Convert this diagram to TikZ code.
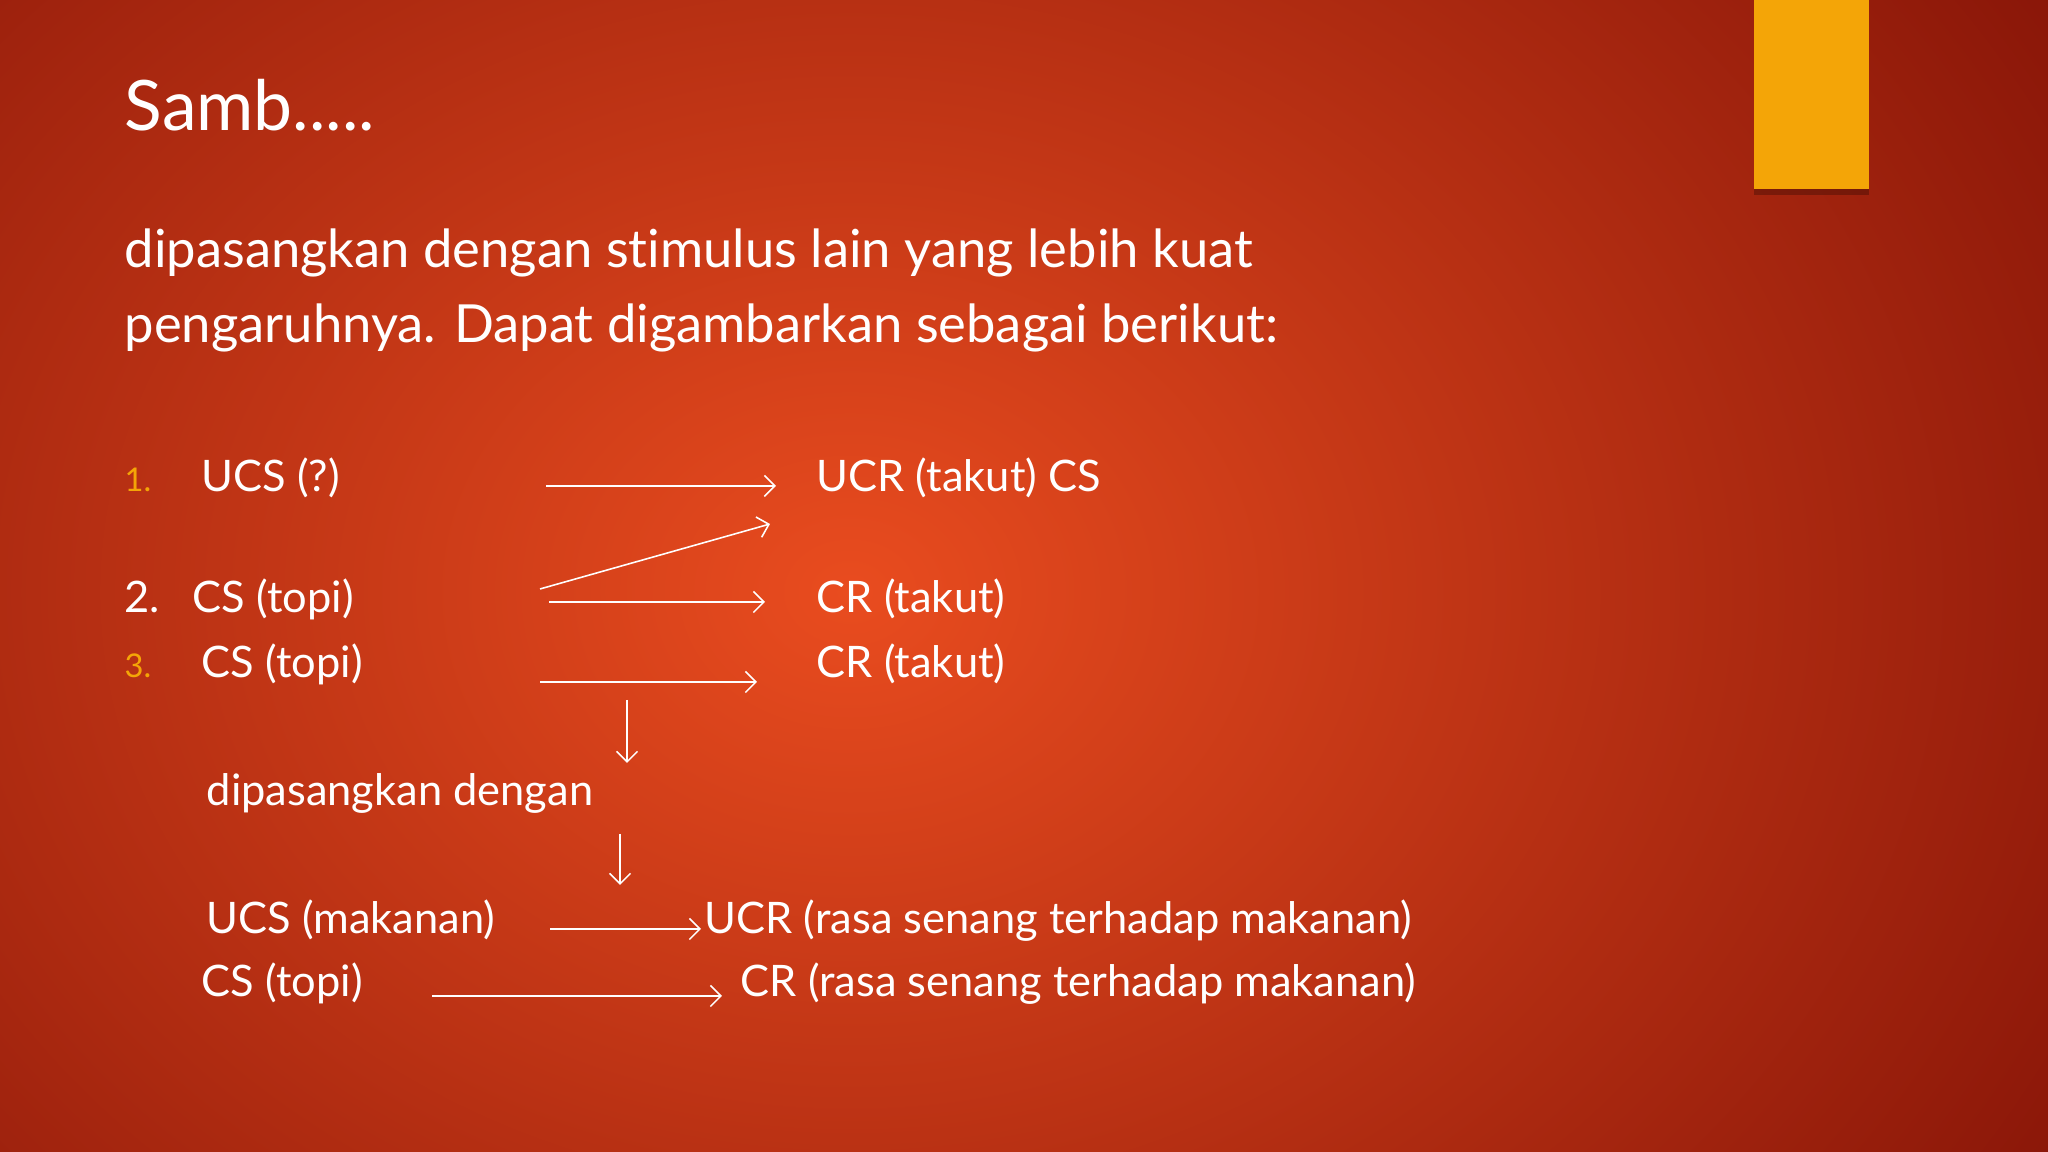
\documentclass[tikz,border=0pt]{standalone}
\usepackage{fontspec}
\setmainfont{Lato}[Ligatures = NoCommon]
\usepackage{xcolor}
\usepackage{tikz}
\usetikzlibrary{arrows.meta}

\definecolor{slidedark}{HTML}{841307}
\definecolor{slidelight}{HTML}{E94C1F}
\definecolor{accent}{HTML}{F4A507}

\begin{document}
\begin{tikzpicture}[
		txt/.style = {anchor = base west, inner sep = 0, text = white, font = \fontsize{12.35}{15}\selectfont},
		num/.style = {anchor = base west, inner sep = 0, text = accent, font = \fontsize{9.3}{12}\selectfont},
		arr/.style = {-{Straight Barb[length = 3pt, width = 6pt]}, white, line width = .45pt}
	]
		\useasboundingbox (0,0) rectangle (20.48,11.52);
		% background of the slide
		\begin{scope}
			\clip (0,0) rectangle (20.48,11.52);
			\fill[slidedark] (0,0) rectangle (20.48,11.52);
			\shade[inner color = slidelight, outer color = slidedark] (8.5,5.6) ellipse (15 and 12);
			\fill[black, opacity = .25] (17.54,9.63) rectangle (18.69,9.57);
			\fill[accent] (17.54,9.63) rectangle (18.69,11.52);
		\end{scope}
		% title and text
		\node[txt, font = \fontsize{19.8}{24}\selectfont] (title) at (1.24,10.21) {Samb.....};
		\node[txt, font = \fontsize{14.95}{18}\selectfont] (line1) at (1.24,8.84) {dipasangkan dengan stimulus lain yang lebih kuat};
		\node[txt, font = \fontsize{14.95}{18}\selectfont] (line2) at (1.24,8.09) {pengaruhnya. Dapat digambarkan sebagai berikut:};
		% the three rows
		\node[num] (n1) at (1.24,6.60) {1.};
		\node[txt] (n2) at (1.24,5.39) {2.};
		\node[num] (n3) at (1.24,4.74) {3.};
		\node[txt] (ucs) at (2.01,6.60) {UCS (?)};
		\node[txt] (cs2) at (1.92,5.39) {CS (topi)};
		\node[txt] (cs3) at (2.01,4.74) {CS (topi)};
		\node[txt] (ucr) at (8.16,6.60) {UCR (takut) CS};
		\node[txt] (cr2) at (8.16,5.39) {CR (takut)};
		\node[txt] (cr3) at (8.16,4.74) {CR (takut)};
		\node[txt] (pair) at (2.06,3.46) {dipasangkan dengan};
		\node[txt] (ucsm) at (2.06,2.18) {UCS (makanan)};
		\node[txt] (ucrm) at (7.04,2.18) {UCR (rasa senang terhadap makanan)};
		\node[txt] (csm) at (2.01,1.55) {CS (topi)};
		\node[txt] (crm) at (7.40,1.55) {CR (rasa senang terhadap makanan)};
		% arrows
		\coordinate (a1s) at (5.46,6.66);
		\coordinate (a1e) at (7.76,6.66);
		\coordinate (dgs) at (5.40,5.63);
		\coordinate (dge) at (7.70,6.28);
		\coordinate (a2s) at (5.49,5.50);
		\coordinate (a2e) at (7.65,5.50);
		\coordinate (a3s) at (5.40,4.70);
		\coordinate (a3e) at (7.57,4.70);
		\coordinate (d1s) at (6.27,4.52);
		\coordinate (d1e) at (6.27,3.89);
		\coordinate (d2s) at (6.20,3.18);
		\coordinate (d2e) at (6.20,2.67);
		\coordinate (a4s) at (5.50,2.23);
		\coordinate (a4e) at (7.01,2.23);
		\coordinate (a5s) at (4.32,1.56);
		\coordinate (a5e) at (7.22,1.56);
		\foreach \s/\e in {a1s/a1e, dgs/dge, a2s/a2e, a3s/a3e, d1s/d1e, d2s/d2e, a4s/a4e, a5s/a5e}{
			\draw[arr] (\s) -- (\e);
			}
	\end{tikzpicture}
\end{document}
